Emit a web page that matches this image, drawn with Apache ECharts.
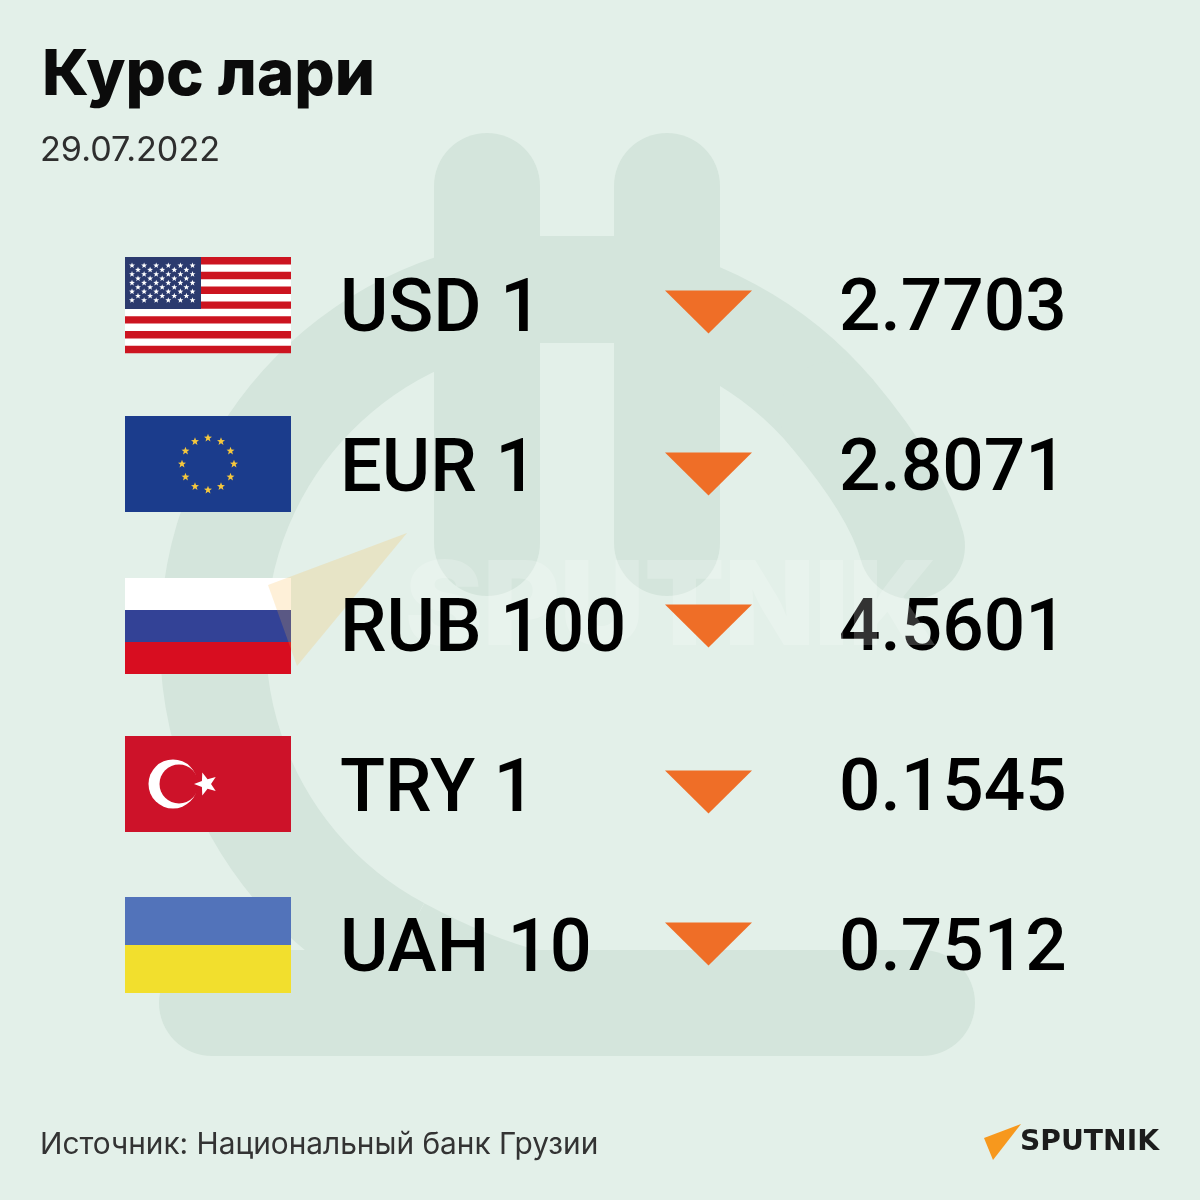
<!DOCTYPE html>
<html>
<head>
<meta charset="utf-8">
<style>html,body{margin:0;padding:0;background:#e3f0e9}#chart{width:1200px;height:1200px}</style>
<script src="https://cdn.jsdelivr.net/npm/echarts@6/dist/echarts.min.js"></script>
</head>
<body>
<div id="chart"></div>
<script>
const currencies = ['USD 1', 'EUR 1', 'RUB 100', 'TRY 1', 'UAH 10'];
const rates = ['2.7703', '2.8071', '4.5601', '0.1545', '0.7512'];
const flags = ['us', 'eu', 'ru', 'tr', 'ua'];
// all five went down
const arrowDir = ['down', 'down', 'down', 'down', 'down'];
// rows are not quite evenly spaced in the original
const arrowNudge = [7, 9, 1, 7, -1];
const flagNudge = [0, -1, 1, -1, 0];

const title = 'Курс лари';
const dateText = '29.07.2022';
const sourceText = 'Источник: Национальный банк Грузии';

const FONT = 'Inter, "Noto Sans", sans-serif';
const NAME_FONT = '500 74px Roboto, Inter, sans-serif';
const RATE_FONT = '500 73px Roboto, Inter, sans-serif';
const BG = '#e3f0e9', GLYPH = '#d4e5dc';

function starPoints(cx, cy, r, rot) {
  const pts = [];
  for (let i = 0; i < 10; i++) {
    const rr = i % 2 ? r * 0.42 : r;
    const a = (rot || 0) - Math.PI / 2 + i * Math.PI / 5;
    pts.push([cx + rr * Math.cos(a), cy + rr * Math.sin(a)]);
  }
  return pts;
}
const rect = (x, y, width, height, fill) => ({ type: 'rect', shape: { x, y, width, height }, style: { fill } });
const star = (cx, cy, r, fill, rot) => ({ type: 'polygon', shape: { points: starPoints(cx, cy, r, rot) }, style: { fill } });

// flag is 166x96, x/y is the top left corner
function drawFlag(name, x, y) {
  const out = [];
  if (name === 'us') {
    out.push(rect(x, y, 166, 96, '#ffffff'));
    for (let i = 0; i < 7; i++) out.push(rect(x, y + i * 14.8, 166, 7.4, '#cc1420'));
    out.push(rect(x, y, 76, 52, '#2b3a6e'));
    for (let r = 0; r < 9; r++) {
      const n = r % 2 ? 5 : 6;
      for (let c = 0; c < n; c++) {
        out.push(star(x + (r % 2 ? 13 : 7) + c * 12.1, y + 8.5 + r * 4.35, 3.1, '#ffffff'));
      }
    }
  } else if (name === 'eu') {
    out.push(rect(x, y, 166, 96, '#1b3c8c'));
    for (let i = 0; i < 12; i++) {
      const a = i * Math.PI / 6;
      out.push(star(x + 83 + 26 * Math.sin(a), y + 48 - 26 * Math.cos(a), 4.2, '#f5c73d'));
    }
  } else if (name === 'ru') {
    out.push(rect(x, y, 166, 32, '#ffffff'));
    out.push(rect(x, y + 32, 166, 32, '#334296'));
    out.push(rect(x, y + 64, 166, 32, '#d80d20'));
  } else if (name === 'tr') {
    out.push(rect(x, y, 166, 96, '#cd1229'));
    out.push({ type: 'circle', shape: { cx: x + 48, cy: y + 48, r: 24.5 }, style: { fill: '#ffffff' } });
    out.push({ type: 'circle', shape: { cx: x + 54, cy: y + 48, r: 19.5 }, style: { fill: '#cd1229' } });
    out.push(star(x + 81, y + 48, 12, '#ffffff', -Math.PI / 2));
  } else if (name === 'ua') {
    out.push(rect(x, y, 166, 48, '#5273ba'));
    out.push(rect(x, y + 48, 166, 48, '#f2df2d'));
  }
  return out;
}

// big lari sign in the background
const R = 351, CX = 564, CY = 640, W = 106;
const p = (deg) => [CX + R * Math.cos(deg * Math.PI / 180), CY + R * Math.sin(deg * Math.PI / 180)];
const roundBar = (x, y, width, height) => ({
  type: 'rect', z: 1, shape: { x, y, width, height, r: 53 }, style: { fill: GLYPH }
});
const arcRight = p(-40), arcLeft = p(118);
const glyphStroke = { fill: null, stroke: GLYPH, lineWidth: W };
const backdrop = [
  { type: 'rect', z: 0, shape: { x: 0, y: 0, width: 1200, height: 1200 }, style: { fill: BG } },
  {
    type: 'arc', z: 1,
    shape: { cx: CX, cy: CY, r: R, startAngle: -40 * Math.PI / 180, endAngle: 118 * Math.PI / 180, clockwise: false },
    style: { ...glyphStroke, lineCap: 'butt' }
  },
  // the right end swings out a bit and the left end runs flat into the base
  {
    type: 'bezierCurve', z: 1,
    shape: { x1: arcRight[0], y1: arcRight[1], x2: 912, y2: 546, cpx1: 897, cpy1: 491 },
    style: { ...glyphStroke, lineCap: 'round' }
  },
  {
    type: 'bezierCurve', z: 1,
    shape: { x1: arcLeft[0], y1: arcLeft[1], x2: 530, y2: 1003, cpx1: 470, cpy1: 988 },
    style: { ...glyphStroke, lineCap: 'butt' }
  },
  roundBar(434, 133, W, 463),
  roundBar(614, 133, W, 463),
  roundBar(159, 950, 816, 106),
  // opening of the ring around the bars
  { type: 'rect', z: 1, shape: { x: 540, y: 343, width: 74, height: 260 }, style: { fill: BG } },
  { type: 'rect', z: 1, shape: { x: 540, y: 236, width: 74, height: 107 }, style: { fill: GLYPH } },

  { type: 'text', z: 1, left: 42, top: 44, style: { text: title, font: '800 63.5px ' + FONT, fill: '#0b0b0b' } },
  { type: 'text', z: 1, left: 40, top: 134, style: { text: dateText, font: '400 34.2px ' + FONT, fill: '#2e2e2e' } },
  { type: 'text', z: 1, left: 40, top: 1130, style: { text: sourceText, font: '400 29.8px ' + FONT, fill: '#333333' } },

  // logo
  { type: 'polygon', z: 1, shape: { points: [[984, 1138], [1021, 1124], [993, 1160]] }, style: { fill: '#f7981d' } },
  { type: 'text', z: 1, left: 1020, top: 1129, style: { text: 'SPUTNIK', font: 'bold 28.2px "DejaVu Sans"', fill: '#1c1c1c' } },

  // faint watermark, over the flags and the rates but under names and arrows
  { type: 'polygon', z: 20, shape: { points: [[268, 585], [407, 533], [297, 666]] }, style: { fill: '#f8b63c', opacity: 0.2 } },
  { type: 'text', z: 20, left: 405, top: 551, style: { text: 'SPUTNIK', font: '900 117px ' + FONT, fill: '#ffffff', opacity: 0.2 } }
];

const chart = echarts.init(document.getElementById('chart'), null, { renderer: 'canvas' });
chart.setOption({
  animation: false,
  backgroundColor: BG,
  graphic: { elements: backdrop },
  grid: { left: 0, top: 225, width: 1200, height: 800 },
  xAxis: {
    type: 'category', data: ['flag', 'name', 'arrow', 'rate'],
    show: false
  },
  yAxis: { type: 'category', data: currencies, inverse: true, show: false },
  series: [
    {
      type: 'custom',
      z: 5,
      coordinateSystem: 'cartesian2d',
      data: flags.map((f, i) => ['flag', currencies[i]]),
      renderItem(params, api) {
        const c = api.coord([0, params.dataIndex]);
        const y = c[1] - 48 + flagNudge[params.dataIndex];
        return { type: 'group', children: drawFlag(flags[params.dataIndex], 125, y) };
      }
    },
    {
      type: 'custom',
      z: 25,
      data: currencies.map((c, i) => [1, c]),
      renderItem(params, api) {
        const c = api.coord([0, params.dataIndex]);
        return {
          type: 'text',
          style: { x: 340, y: c[1] + 7, text: currencies[params.dataIndex], font: NAME_FONT, fill: '#000000', textAlign: 'left', textVerticalAlign: 'middle' }
        };
      }
    },
    {
      type: 'custom',
      z: 25,
      data: arrowDir.map((d, i) => [2, currencies[i]]),
      renderItem(params, api) {
        const c = api.coord([0, params.dataIndex]);
        const y = c[1] + arrowNudge[params.dataIndex];
        return {
          type: 'polygon',
          shape: { points: [[665, y - 21.5], [752, y - 21.5], [708.5, y + 21.5]] },
          style: { fill: '#ef6e27' }
        };
      }
    },
    {
      type: 'custom',
      z: 6,
      data: rates.map((r, i) => [3, currencies[i]]),
      renderItem(params, api) {
        const c = api.coord([0, params.dataIndex]);
        return {
          type: 'text',
          style: { x: 839, y: c[1] + 7, text: rates[params.dataIndex], font: RATE_FONT, fill: '#000000', textAlign: 'left', textVerticalAlign: 'middle' }
        };
      }
    }
  ]
});
</script>
</body>
</html>
